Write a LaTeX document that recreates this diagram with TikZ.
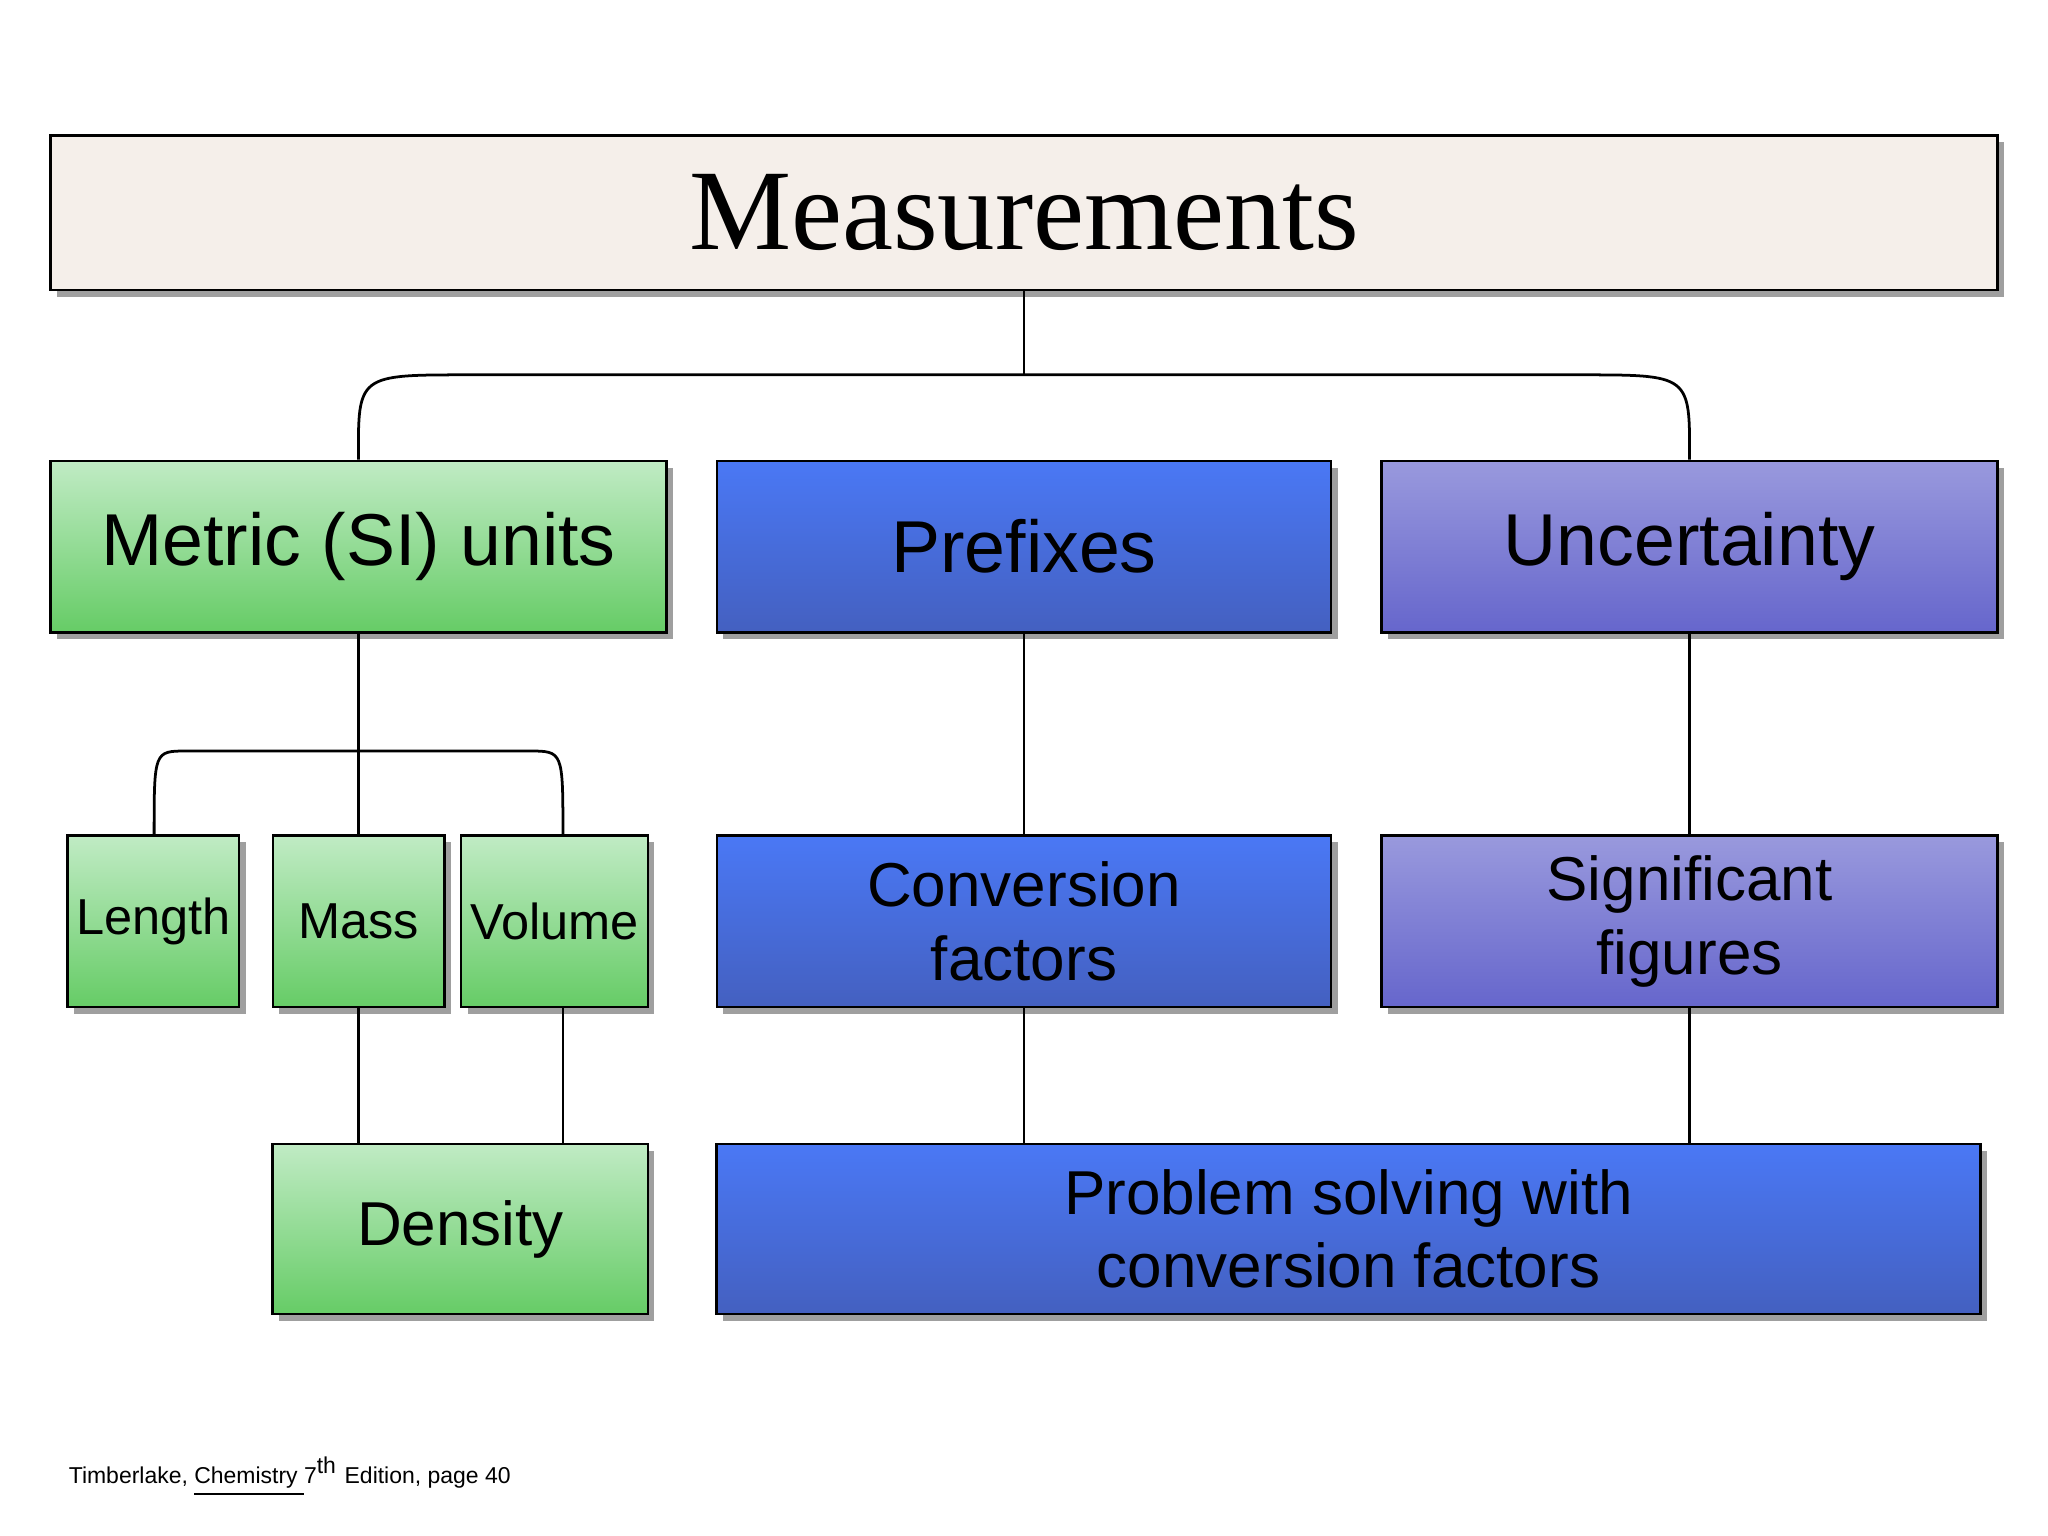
\documentclass[tikz,border=0pt]{standalone}
\usepackage{fontspec}
\setmainfont{Liberation Sans}
\newfontfamily\titlefont{Liberation Serif}
\usetikzlibrary{shadows}
\begin{document}
\begin{tikzpicture}[x=0.01cm,y=-0.01cm,
  box/.style={draw=black,line width=0.6pt,inner sep=0pt,align=center,
    drop shadow={shadow xshift=0.05cm,shadow yshift=-0.05cm,fill=gray!75,opacity=1}},
  green/.style={box,top color=green!25!white!90!black!0,top color={rgb,255:red,192;green,235;blue,196},bottom color={rgb,255:red,102;green,204;blue,102}},
  blue/.style={box,top color={rgb,255:red,74;green,120;blue,245},bottom color={rgb,255:red,68;green,96;blue,192}},
  purple/.style={box,top color={rgb,255:red,153;green,153;blue,221},bottom color={rgb,255:red,102;green,102;blue,204}},
  big/.style={font=\fontsize{16}{19}\selectfont},
  mid/.style={font=\fontsize{13.5}{16}\selectfont},
  small/.style={font=\fontsize{11}{13}\selectfont},
  line/.style={draw=black,line width=0.6pt}]
\useasboundingbox (0,0) rectangle (1568,1176);
\node[box,fill={rgb,255:red,245;green,239;blue,234},minimum width=14.9cm,minimum height=1.18cm,font=\titlefont\fontsize{25}{30}\selectfont] (meas) at (784,163) {Measurements};
\node[green,big,minimum width=4.71cm,minimum height=1.31cm] (metric) at (274.5,418.5) {Metric (SI) units};
\node[blue,big,minimum width=4.70cm,minimum height=1.31cm] (pref) at (784,418.5) {Prefixes};
\node[purple,big,minimum width=4.71cm,minimum height=1.31cm] (unc) at (1293.5,418.5) {Uncertainty};
\node[green,small,minimum width=1.31cm,minimum height=1.31cm] (len) at (117.5,705.5) {Length};
\node[green,small,minimum width=1.31cm,minimum height=1.31cm] (mass) at (274.5,705.5) {Mass};
\node[green,small,minimum width=1.43cm,minimum height=1.31cm] (vol) at (424.5,705.5) {Volume};
\node[blue,mid,minimum width=4.70cm,minimum height=1.31cm] (conv) at (784,705.5) {Conversion\\factors};
\node[purple,mid,minimum width=4.71cm,minimum height=1.31cm] (sig) at (1293.5,705.5) {Significant\\figures};
\node[green,mid,minimum width=2.87cm,minimum height=1.30cm] (dens) at (352.5,941) {Density};
\node[blue,mid,minimum width=9.67cm,minimum height=1.30cm] (prob) at (1032.5,941) {Problem solving with\\conversion factors};
\coordinate (j1) at (784,287);
\coordinate (v1) at (431,575);
\coordinate (l1) at (118,575);
\draw[line] (meas.south) -- (j1);
\draw[line] (metric.north) .. controls (274,287) and (274,287) .. (358,287) -- (1210,287) .. controls (1294,287) and (1294,287) .. (unc.north);
\draw[line] (metric.south) -- (mass.north);
\draw[line] (len.north -| l1) .. controls (118,575) .. (143,575) -- (405,575) .. controls (431,575) .. (vol.north -| v1);
\draw[line] (pref.south) -- (conv.north);
\draw[line] (unc.south) -- (sig.north);
\draw[line] (mass.south) -- (mass.south |- dens.north);
\draw[line] (vol.south -| v1) -- (dens.north -| v1);
\draw[line] (conv.south) -- (conv.south |- prob.north);
\draw[line] (sig.south) -- (sig.south |- prob.north);
\node[anchor=west,inner sep=0pt,font=\fontsize{5}{6}\selectfont] (foot) at (52,1131) {Timberlake, \underline{Chemistry }7\textsuperscript{th} Edition, page 40};
\end{tikzpicture}
\end{document}
